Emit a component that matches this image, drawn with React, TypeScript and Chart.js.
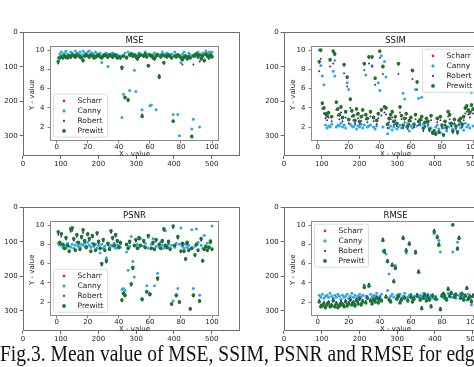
import React, { useEffect, useRef } from "react";
import { Chart, registerables } from "chart.js";

Chart.register(...registerables);
Chart.defaults.font.family = "'DejaVu Sans', sans-serif";

// ---------- labels & ticks ----------
const SERIES_NAMES = ["Scharr", "Canny", "Robert", "Prewitt"];
const SERIES_COLORS = ["#e3261f", "#2fa8e4", "#3b2f9c", "#15782b"];
const SERIES_RADII = [1.2, 1.5, 1.0, 1.8];
const OUTER_X_TICKS = [0, 100, 200, 300, 400, 500];
const OUTER_Y_TICKS = [0, 100, 200, 300];
const INNER_X_TICKS = [0, 20, 40, 60, 80, 100];
const INNER_Y_TICKS = [2, 4, 6, 8, 10];
const X_LABEL = "X - value";
const Y_LABEL = "Y - value";
const CAPTION = "Fig.3. Mean value of MSE, SSIM, PSNR and RMSE for edge detection techniques";

// ---------- MSE ----------
const MSE_SCHARR = [
  8.9, 9.3, 9.2, 9.3, 9.4, 9.2, 9.3, 9.4, 9.2, 9.4,
  9.4, 9.2, 9.4, 9.5, 9.3, 9.3, 9.0, 9.3, 9.4, 9.4,
  9.2, 9.4, 9.5, 9.3, 9.2, 9.4, 9.4, 9.3, 9.3, 9.3,
  9.4, 9.4, 9.2, 9.4, 9.5, 9.2, 9.4, 9.3, 9.3, 9.2,
  9.3, 8.1, 9.3, 5.0, 9.3, 4.9, 9.4, 9.5, 9.3, 9.4,
  9.2, 9.2, 9.3, 9.4, 3.2, 9.3, 9.5, 9.4, 8.3, 9.4,
  9.3, 9.3, 9.2, 9.3, 9.4, 7.1, 9.4, 9.4, 8.6, 9.3,
  9.4, 9.4, 9.3, 9.3, 2.6, 9.3, 9.4, 9.4, 9.3, 9.3,
  9.1, 9.2, 9.3, 9.2, 9.4, 9.3, 1.1, 9.3, 9.4, 9.5,
  9.4, 9.4, 9.2, 9.3, 9.0, 9.5, 9.3, 9.3, 9.4, 9.4,
];
const MSE_CANNY = [
  9.2, 9.6, 9.8, 9.5, 9.7, 9.9, 9.6, 9.4, 9.8, 9.7,
  9.5, 9.9, 9.7, 9.6, 9.8, 9.5, 9.9, 9.7, 9.6, 9.8,
  9.9, 9.6, 9.7, 9.5, 9.8, 9.6, 9.4, 9.7, 8.7, 9.5,
  9.6, 9.7, 8.3, 9.5, 9.6, 9.7, 9.4, 9.6, 9.5, 9.3,
  9.4, 3.0, 5.4, 9.7, 9.3, 9.8, 5.8, 9.4, 9.6, 7.9,
  5.7, 9.5, 9.7, 9.6, 3.8, 9.5, 9.8, 9.4, 9.6, 4.2,
  4.3, 9.5, 9.7, 3.8, 9.6, 7.3, 9.5, 9.8, 9.4, 9.6,
  9.7, 9.5, 9.3, 9.6, 3.3, 9.8, 9.5, 3.3, 1.1, 8.7,
  9.6, 9.8, 9.4, 9.2, 9.7, 9.5, 1.8, 2.8, 9.3, 9.6,
  9.8, 2.0, 9.4, 9.7, 9.5, 9.9, 9.6, 9.8, 9.7, 9.8,
];
const MSE_ROBERT = [
  8.6, 9.1, 9.2, 9.1, 9.3, 9.2, 9.1, 9.3, 9.2, 9.4,
  9.3, 9.2, 9.4, 9.3, 9.2, 9.1, 8.8, 9.3, 9.4, 9.3,
  9.2, 9.4, 9.3, 9.1, 9.2, 9.3, 9.4, 9.2, 9.1, 9.3,
  9.4, 9.3, 9.2, 9.4, 9.3, 9.2, 9.4, 9.3, 9.1, 9.2,
  9.1, 8.0, 9.3, 5.0, 9.1, 4.7, 9.4, 9.5, 9.3, 9.4,
  9.2, 9.0, 9.3, 9.4, 3.3, 9.3, 9.5, 9.2, 8.3, 9.4,
  9.3, 9.1, 9.0, 9.3, 9.4, 7.4, 9.2, 9.4, 8.6, 9.3,
  9.2, 9.4, 9.3, 9.1, 2.7, 9.3, 9.2, 9.4, 9.3, 9.1,
  8.5, 9.2, 9.3, 9.0, 9.2, 9.1, 1.1, 8.5, 9.4, 9.5,
  9.2, 8.8, 9.0, 9.3, 8.8, 9.5, 9.3, 9.1, 9.4, 9.2,
];
const MSE_PREWITT = [
  8.8, 9.2, 9.3, 9.2, 9.4, 9.3, 9.2, 9.4, 9.3, 9.5,
  9.4, 9.3, 9.5, 9.4, 9.3, 9.2, 8.9, 9.4, 9.5, 9.4,
  9.3, 9.5, 9.4, 9.2, 9.3, 9.4, 9.5, 9.3, 9.2, 9.4,
  9.5, 9.4, 9.3, 9.5, 9.4, 9.3, 9.5, 9.4, 9.2, 9.3,
  9.2, 8.2, 9.4, 5.1, 9.2, 4.8, 9.5, 9.6, 9.4, 9.5,
  9.3, 9.1, 9.4, 9.5, 3.1, 9.4, 9.6, 9.3, 8.4, 9.5,
  9.4, 9.2, 9.1, 9.4, 9.5, 7.2, 9.3, 9.5, 8.7, 9.4,
  9.3, 9.5, 9.4, 9.2, 2.6, 9.4, 9.3, 9.5, 9.4, 9.2,
  9.0, 9.3, 9.4, 9.1, 9.3, 9.2, 1.0, 9.4, 9.5, 9.6,
  9.3, 9.5, 9.1, 9.4, 8.9, 9.6, 9.4, 9.2, 9.5, 9.3,
];

// ---------- SSIM ----------
const SSIM_SCHARR = [
  8.7, 9.9, 4.4, 3.9, 3.3, 3.1, 3.4, 8.9, 3.0, 9.8,
  9.5, 4.5, 3.8, 3.2, 4.0, 2.9, 8.4, 3.5, 7.1, 2.7,
  4.8, 3.6, 3.1, 2.6, 3.8, 3.3, 2.5, 3.0, 3.7, 8.5,
  3.2, 2.8, 9.2, 3.5, 9.2, 2.9, 7.0, 2.6, 3.3, 9.8,
  3.7, 8.2, 4.0, 3.9, 2.2, 2.8, 3.2, 3.5, 2.5, 3.0,
  2.3, 8.5, 4.0, 3.1, 2.1, 2.8, 3.3, 2.0, 2.6, 2.9,
  7.8, 2.2, 3.2, 6.6, 2.5, 2.7, 3.0, 1.8, 2.4, 2.8,
  2.5, 1.7, 3.1, 1.3, 1.5, 1.2, 2.8, 1.4, 3.0, 2.1,
  1.1, 2.5, 1.9, 3.5, 3.2, 2.3, 1.5, 2.7, 2.0, 1.4,
  2.6, 2.8, 2.2, 3.0, 3.9, 4.1, 3.7, 3.4, 4.2, 3.8,
];
const SSIM_CANNY = [
  10.0, 8.4, 7.3, 6.4, 2.2, 1.9, 2.1, 2.0, 2.3, 7.8,
  7.3, 2.0, 2.2, 2.1, 2.4, 2.0, 2.2, 1.9, 6.6, 5.9,
  2.3, 2.1, 2.0, 2.2, 1.8, 2.1, 2.0, 2.3, 1.9, 2.2,
  7.4, 2.0, 2.1, 2.2, 8.3, 2.0, 1.8, 2.1, 6.6, 5.8,
  9.4, 2.0, 8.8, 7.2, 1.3, 1.9, 2.1, 1.7, 2.0, 2.3,
  1.8, 2.0, 2.2, 1.9, 5.5, 4.9, 2.0, 2.4, 1.6, 2.1,
  1.9, 2.0, 5.9, 2.1, 5.0, 2.2, 5.1, 2.3, 2.0, 2.5,
  2.1, 1.7, 1.9, 1.5, 1.3, 2.0, 2.2, 1.8, 1.4, 2.1,
  1.9, 2.2, 1.6, 2.0, 2.4, 2.1, 1.8, 2.3, 2.0, 1.5,
  2.2, 1.9, 2.1, 1.7, 2.4, 2.0, 2.2, 1.9, 5.6, 2.1,
];
const SSIM_ROBERT = [
  7.8, 9.1, 3.9, 3.4, 2.9, 2.7, 3.0, 8.3, 2.6, 8.6,
  8.9, 3.8, 3.2, 2.8, 3.5, 2.6, 7.6, 3.0, 6.2, 2.4,
  4.0, 3.1, 2.7, 2.4, 3.3, 2.9, 2.3, 2.6, 3.2, 7.9,
  2.8, 2.5, 8.6, 3.1, 8.4, 2.6, 6.4, 2.3, 2.9, 9.2,
  3.2, 7.5, 3.5, 3.3, 1.9, 2.5, 2.8, 3.0, 2.2, 2.7,
  2.1, 7.5, 3.5, 2.8, 1.9, 2.5, 2.9, 1.8, 2.3, 2.6,
  7.0, 2.0, 2.8, 5.9, 2.2, 2.4, 2.7, 1.6, 2.1, 2.5,
  2.3, 1.6, 2.7, 1.3, 1.5, 1.2, 2.5, 1.4, 2.7, 1.9,
  1.1, 2.2, 1.8, 3.1, 2.8, 2.1, 1.4, 2.4, 1.8, 1.3,
  2.3, 2.5, 2.0, 2.7, 3.4, 3.6, 3.3, 3.0, 3.7, 3.4,
];
const SSIM_PREWITT = [
  8.8, 10.0, 4.5, 4.0, 3.4, 3.2, 3.5, 9.0, 3.1, 9.9,
  9.6, 4.6, 3.9, 3.3, 4.1, 3.0, 8.5, 3.6, 7.2, 2.8,
  4.9, 3.7, 3.2, 2.7, 3.9, 3.4, 2.6, 3.1, 3.8, 8.6,
  3.3, 2.9, 9.3, 3.6, 9.3, 3.0, 7.1, 2.7, 3.4, 9.9,
  3.8, 8.3, 4.1, 4.0, 2.3, 2.9, 3.3, 3.6, 2.6, 3.1,
  2.4, 8.6, 4.1, 3.2, 2.2, 2.9, 3.4, 2.1, 2.7, 3.0,
  7.9, 2.3, 3.3, 6.7, 2.6, 2.8, 3.1, 1.9, 2.5, 2.9,
  2.6, 1.8, 3.2, 1.4, 1.6, 1.3, 2.9, 1.5, 3.1, 2.2,
  1.2, 2.6, 2.0, 3.6, 3.3, 2.4, 1.6, 2.8, 2.1, 1.5,
  2.7, 2.9, 2.3, 3.1, 4.0, 4.2, 3.8, 3.5, 4.3, 3.9,
];

// ---------- PSNR ----------
const PSNR_SCHARR = [
  9.2, 8.1, 9.0, 7.9, 7.5, 8.6, 7.8, 7.2, 9.5, 9.6,
  8.5, 7.3, 8.9, 8.1, 7.4, 8.7, 9.4, 8.3, 7.6, 9.0,
  8.5, 7.2, 8.8, 7.9, 7.3, 9.1, 8.2, 7.5, 5.9, 8.4,
  7.3, 6.2, 8.0, 7.4, 9.3, 8.6, 7.8, 8.9, 8.3, 7.6,
  8.1, 2.1, 2.8, 2.6, 7.9, 7.5, 8.2, 3.8, 5.5, 7.8,
  8.4, 7.5, 8.6, 7.8, 2.2, 8.3, 7.6, 3.0, 8.8, 2.7,
  7.5, 8.1, 7.4, 8.4, 4.4, 7.9, 7.5, 8.3, 9.5, 7.8,
  7.6, 8.2, 7.4, 1.7, 9.8, 7.8, 2.6, 8.7, 1.9, 7.2,
  8.0, 7.2, 6.4, 8.1, 7.3, 1.2, 7.5, 2.6, 6.8, 7.9,
  7.3, 2.0, 8.5, 6.2, 7.4, 7.7, 7.3, 7.6, 8.2, 7.4,
];
const PSNR_CANNY = [
  8.1, 7.9, 8.0, 7.7, 7.9, 7.6, 8.1, 7.8, 7.7, 8.0,
  7.6, 7.9, 8.2, 7.8, 7.7, 8.0, 7.9, 8.1, 7.8, 8.2,
  7.9, 7.7, 8.1, 7.8, 8.0, 7.6, 7.9, 7.1, 8.0, 7.6,
  7.8, 6.6, 8.0, 7.7, 7.9, 7.8, 8.1, 7.6, 7.9, 7.8,
  7.7, 3.3, 3.4, 3.2, 7.2, 5.3, 7.8, 8.8, 6.2, 4.6,
  7.9, 8.0, 7.7, 8.6, 2.2, 7.8, 8.1, 3.7, 7.6, 2.9,
  8.0, 8.6, 3.7, 7.8, 5.0, 7.7, 8.2, 7.9, 7.6, 9.4,
  7.8, 8.0, 7.6, 7.9, 2.1, 7.7, 8.1, 3.4, 8.0, 9.7,
  7.8, 7.6, 8.0, 7.7, 7.9, 7.5, 9.5, 3.4, 7.8, 9.6,
  8.2, 2.7, 7.9, 7.6, 8.9, 7.8, 8.1, 7.7, 8.4, 9.9,
];
const PSNR_ROBERT = [
  9.0, 8.0, 8.8, 7.9, 7.5, 8.5, 7.8, 7.2, 9.3, 9.4,
  8.4, 7.3, 8.8, 8.0, 7.4, 8.6, 9.2, 8.2, 7.6, 8.9,
  8.4, 7.2, 8.7, 7.9, 7.3, 9.0, 8.1, 7.5, 5.8, 8.3,
  7.3, 6.1, 7.9, 7.4, 9.2, 8.5, 7.8, 8.8, 8.2, 7.6,
  8.0, 2.3, 3.0, 2.8, 7.9, 7.5, 8.1, 3.7, 5.4, 7.8,
  8.3, 7.5, 8.5, 7.8, 2.4, 8.2, 7.6, 3.0, 8.7, 2.9,
  7.5, 8.0, 7.4, 8.3, 4.3, 7.9, 7.5, 8.2, 9.4, 7.8,
  7.6, 8.1, 7.4, 1.9, 9.7, 7.8, 2.8, 8.6, 2.1, 7.2,
  7.9, 7.2, 6.4, 8.0, 7.3, 1.4, 7.5, 2.8, 6.8, 7.9,
  7.3, 2.2, 8.4, 6.2, 7.4, 7.7, 7.3, 7.6, 8.1, 7.4,
];
const PSNR_PREWITT = [
  9.3, 8.2, 9.1, 8.0, 7.6, 8.7, 7.9, 7.3, 9.6, 9.7,
  8.6, 7.4, 9.0, 8.2, 7.5, 8.8, 9.5, 8.4, 7.7, 9.1,
  8.6, 7.3, 8.9, 8.0, 7.4, 9.2, 8.3, 7.6, 6.0, 8.5,
  7.4, 6.3, 8.1, 7.5, 9.4, 8.7, 7.9, 9.0, 8.4, 7.7,
  8.2, 2.2, 2.9, 2.7, 8.0, 7.6, 8.3, 3.9, 5.6, 7.9,
  8.5, 7.6, 8.7, 7.9, 2.3, 8.4, 7.7, 3.1, 8.9, 2.8,
  7.6, 8.2, 7.5, 8.5, 4.5, 8.0, 7.6, 8.4, 9.6, 7.9,
  7.7, 8.3, 7.5, 1.8, 9.9, 7.9, 2.7, 8.8, 2.0, 7.3,
  8.1, 7.3, 6.5, 8.2, 7.4, 1.3, 7.6, 2.7, 6.9, 8.0,
  7.4, 2.1, 8.6, 6.3, 7.5, 7.8, 7.4, 7.7, 8.3, 7.5,
];

// ---------- RMSE ----------
const RMSE_SCHARR = [
  2.1, 1.6, 1.7, 1.9, 1.5, 1.8, 2.0, 1.6, 1.7, 2.2,
  1.6, 1.9, 1.5, 1.7, 2.0, 1.8, 1.6, 2.1, 1.7, 1.9,
  2.3, 1.8, 2.0, 1.7, 2.2, 1.9, 2.4, 1.8, 2.1, 3.6,
  2.0, 2.5, 3.8, 2.2, 1.9, 2.3, 2.1, 2.5, 2.0, 2.4,
  2.2, 8.5, 7.3, 2.6, 6.3, 2.3, 2.1, 5.9, 4.2, 5.6,
  2.4, 2.7, 2.0, 2.3, 8.7, 2.5, 7.4, 2.2, 8.1, 2.6,
  2.1, 2.4, 7.2, 2.7, 5.2, 2.3, 1.4, 2.5, 2.8, 2.2,
  2.6, 2.3, 1.6, 2.7, 9.4, 2.4, 8.8, 8.0, 1.3, 2.7,
  2.9, 2.5, 2.3, 3.4, 2.7, 3.0, 10.0, 2.6, 2.8, 7.6,
  8.7, 2.5, 2.9, 2.3, 2.7, 3.5, 2.4, 2.6, 2.1, 2.7,
];
const RMSE_CANNY = [
  2.7, 2.5, 2.8, 2.4, 2.6, 2.7, 2.5, 2.9, 2.6, 2.4,
  2.7, 2.5, 2.8, 2.6, 2.3, 2.7, 2.5, 2.6, 2.8, 2.4,
  2.6, 2.9, 2.5, 2.7, 2.4, 2.6, 2.8, 2.5, 2.7, 3.7,
  2.6, 2.4, 3.6, 2.8, 2.5, 2.7, 2.6, 2.9, 2.4, 2.6,
  2.8, 7.3, 7.4, 7.0, 3.2, 4.9, 2.6, 2.8, 2.5, 5.8,
  2.7, 2.5, 2.8, 2.4, 2.6, 2.9, 7.1, 2.5, 2.7, 2.8,
  2.4, 2.6, 7.3, 2.8, 2.5, 2.7, 2.6, 2.9, 2.4, 2.6,
  2.8, 2.5, 2.7, 2.4, 9.1, 2.6, 2.3, 8.4, 7.2, 2.8,
  2.5, 2.7, 2.4, 2.9, 2.6, 2.5, 7.2, 2.8, 2.4, 8.2,
  2.7, 2.9, 2.5, 2.3, 2.6, 2.2, 2.8, 2.5, 1.7, 2.6,
];
const RMSE_ROBERT = [
  2.2, 1.7, 1.8, 2.0, 1.6, 1.9, 2.1, 1.7, 1.8, 2.3,
  1.7, 2.0, 1.6, 1.8, 2.1, 1.9, 1.7, 2.2, 1.8, 2.0,
  2.4, 1.9, 2.1, 1.8, 2.3, 2.0, 2.5, 1.9, 2.2, 3.8,
  2.1, 2.6, 3.9, 2.3, 2.0, 2.4, 2.2, 2.6, 2.1, 2.5,
  2.3, 8.6, 7.4, 2.7, 6.4, 2.4, 2.2, 6.0, 4.3, 5.7,
  2.5, 2.8, 2.1, 2.4, 8.8, 2.6, 7.5, 2.3, 8.2, 2.7,
  2.2, 2.5, 7.3, 2.8, 5.3, 2.4, 1.5, 2.6, 2.9, 2.3,
  2.7, 2.4, 1.7, 2.8, 9.5, 2.5, 8.9, 8.1, 1.4, 2.8,
  3.0, 2.6, 2.4, 3.5, 2.8, 3.1, 10.1, 2.7, 2.9, 7.7,
  8.8, 2.6, 3.0, 2.4, 2.8, 3.6, 2.5, 2.7, 2.2, 2.8,
];
const RMSE_PREWITT = [
  2.0, 1.5, 1.6, 1.8, 1.4, 1.7, 1.9, 1.5, 1.6, 2.1,
  1.5, 1.8, 1.4, 1.6, 1.9, 1.7, 1.5, 2.0, 1.6, 1.8,
  2.2, 1.7, 1.9, 1.6, 2.1, 1.8, 2.3, 1.7, 2.0, 3.5,
  1.9, 2.4, 3.7, 2.1, 1.8, 2.2, 2.0, 2.4, 1.9, 2.3,
  2.1, 8.4, 7.2, 2.5, 6.2, 2.2, 2.0, 5.8, 4.1, 5.5,
  2.3, 2.6, 1.9, 2.2, 8.6, 2.4, 7.3, 2.1, 8.0, 2.5,
  2.0, 2.3, 7.1, 2.6, 5.1, 2.2, 1.3, 2.4, 2.7, 2.1,
  2.5, 2.2, 1.5, 2.6, 9.3, 2.3, 8.7, 7.9, 1.2, 2.6,
  2.8, 2.4, 2.2, 3.3, 2.6, 2.9, 10.0, 2.5, 2.7, 7.5,
  8.6, 2.4, 2.8, 2.2, 2.6, 3.4, 2.3, 2.5, 2.0, 2.6,
];

// ---------- layout constants (not data) ----------
const PANEL_W = 245;
const PANEL_H = 172;
const INNER_LEFT = 24;
const INNER_TOP = 34;
const INNER_W = 205;
const INNER_H = 126;

type LegendLoc = "lower left" | "upper right" | "upper left";

const tickFont = { size: 7 };
const TEXT_COLOR = "#1e1e1e";

function fixedTicks(values: number[]) {
  return (scale: any) => {
    scale.ticks = values.map((v) => ({ value: v }));
  };
}

const framePlugin = (color: string) => ({
  id: "frame",
  afterDraw(chart: any) {
    const { ctx, chartArea: a } = chart;
    ctx.save();
    ctx.strokeStyle = color;
    ctx.lineWidth = 1;
    ctx.strokeRect(Math.round(a.left) + 0.5, Math.round(a.top) + 0.5, Math.round(a.right - a.left) - 1, Math.round(a.bottom - a.top) - 1);
    ctx.restore();
  },
});

const innerDecor = (title: string, loc: LegendLoc) => ({
  id: "innerDecor",
  afterDraw(chart: any) {
    const { ctx, chartArea: a } = chart;
    ctx.save();
    ctx.fillStyle = "#111";
    ctx.textAlign = "center";
    ctx.textBaseline = "middle";
    ctx.font = "8.5px 'DejaVu Sans'";
    ctx.fillText(title, (a.left + a.right) / 2, a.top - 5);
    ctx.font = "7px 'DejaVu Sans'";
    ctx.fillStyle = TEXT_COLOR;
    ctx.fillText(X_LABEL, (a.left + a.right) / 2, a.bottom + 13.3);
    ctx.save();
    ctx.translate(a.left - 18, (a.top + a.bottom) / 2 + 1.5);
    ctx.rotate(-Math.PI / 2);
    ctx.fillText(Y_LABEL, 0, 0);
    ctx.restore();

    // legend
    const bw = 54;
    const bh = 43;
    const pad = 3.5;
    let bx = a.left + pad;
    let by = a.top + pad;
    if (loc === "lower left") by = a.bottom - pad - bh;
    if (loc === "upper right") bx = a.right - pad - bw;
    ctx.beginPath();
    const r = 2;
    ctx.moveTo(bx + r, by);
    ctx.lineTo(bx + bw - r, by);
    ctx.quadraticCurveTo(bx + bw, by, bx + bw, by + r);
    ctx.lineTo(bx + bw, by + bh - r);
    ctx.quadraticCurveTo(bx + bw, by + bh, bx + bw - r, by + bh);
    ctx.lineTo(bx + r, by + bh);
    ctx.quadraticCurveTo(bx, by + bh, bx, by + bh - r);
    ctx.lineTo(bx, by + r);
    ctx.quadraticCurveTo(bx, by, bx + r, by);
    ctx.fillStyle = "rgba(255,255,255,0.8)";
    ctx.fill();
    ctx.strokeStyle = "#d4d4d4";
    ctx.lineWidth = 0.8;
    ctx.stroke();
    ctx.font = "7.5px 'DejaVu Sans'";
    ctx.textAlign = "left";
    ctx.textBaseline = "middle";
    chart.data.datasets.forEach((ds: any, i: number) => {
      const y = by + 6.7 + i * 10;
      ctx.beginPath();
      ctx.fillStyle = ds.backgroundColor;
      ctx.arc(bx + 10.5, y, ds.pointRadius + 0.1, 0, Math.PI * 2);
      ctx.fill();
      ctx.fillStyle = TEXT_COLOR;
      ctx.fillText(ds.label, bx + 24, y + 0.5);
    });
    ctx.restore();
  },
});

type PanelProps = { title: string; left: number; top: number; series: number[][]; loc: LegendLoc };

function Panel({ title, left, top, series, loc }: PanelProps) {
  const outerRef = useRef<HTMLCanvasElement>(null);
  const innerRef = useRef<HTMLCanvasElement>(null);

  useEffect(() => {
    const axisGrid = (color: string, len: number) => ({
      display: true,
      drawOnChartArea: false,
      drawTicks: true,
      tickLength: len,
      color,
    });
    const outer = new Chart(outerRef.current!, {
      type: "scatter",
      data: { datasets: [] },
      options: {
        responsive: false,
        animation: false,
        devicePixelRatio: 1,
        layout: { padding: { left: 0, top: 32.3, right: 5.7, bottom: 0 } },
        plugins: { legend: { display: false }, tooltip: { enabled: false } },
        scales: {
          x: {
            type: "linear",
            min: -0.5,
            max: 573,
            afterBuildTicks: fixedTicks(OUTER_X_TICKS),
            afterFit: (s: any) => { s.height = 16; },
            grid: axisGrid("#666", 3),
            border: { display: false },
            ticks: { font: tickFont, color: TEXT_COLOR, padding: 0.5, maxRotation: 0, autoSkip: false },
          },
          y: {
            type: "linear",
            reverse: true,
            min: -0.5,
            max: 359,
            afterBuildTicks: fixedTicks(OUTER_Y_TICKS),
            afterFit: (s: any) => { s.width = 22.7; },
            grid: axisGrid("#666", 3),
            border: { display: false },
            ticks: { font: tickFont, color: TEXT_COLOR, padding: 2, autoSkip: false },
          },
        },
      },
      plugins: [framePlugin("#6e6e6e")],
    } as any);

    const inner = new Chart(innerRef.current!, {
      type: "scatter",
      data: {
        datasets: SERIES_NAMES.map((name, i) => ({
          label: name,
          data: series[i].map((v, j) => ({ x: j + 1, y: v })),
          backgroundColor: SERIES_COLORS[i],
          borderWidth: 0,
          pointRadius: SERIES_RADII[i],
          pointHoverRadius: SERIES_RADII[i],
          order: 4 - i,
        })),
      },
      options: {
        responsive: false,
        animation: false,
        devicePixelRatio: 1,
        layout: { padding: { left: 0, top: 11.7, right: 10, bottom: 0 } },
        plugins: { legend: { display: false }, tooltip: { enabled: false } },
        scales: {
          x: {
            type: "linear",
            min: -4.3,
            max: 104.5,
            afterBuildTicks: fixedTicks(INNER_X_TICKS),
            afterFit: (s: any) => { s.height = 19.3; },
            grid: axisGrid("#808080", 2.5),
            border: { display: false },
            ticks: { font: tickFont, color: TEXT_COLOR, padding: 0, maxRotation: 0, autoSkip: false },
          },
          y: {
            type: "linear",
            min: 0.58,
            max: 10.45,
            afterBuildTicks: fixedTicks(INNER_Y_TICKS),
            afterFit: (s: any) => { s.width = 26; },
            grid: axisGrid("#808080", 2.5),
            border: { display: false },
            ticks: { font: tickFont, color: TEXT_COLOR, padding: 3, autoSkip: false },
          },
        },
      },
      plugins: [framePlugin("#8a8a8a"), innerDecor(title, loc)],
    } as any);

    return () => {
      outer.destroy();
      inner.destroy();
    };
  }, []);

  return (
    <div style={{ position: "absolute", left, top, width: PANEL_W, height: PANEL_H }}>
      <canvas ref={outerRef} width={PANEL_W} height={PANEL_H} style={{ position: "absolute", left: 0, top: 0 }} />
      <canvas ref={innerRef} width={INNER_W} height={INNER_H} style={{ position: "absolute", left: INNER_LEFT, top: INNER_TOP }} />
    </div>
  );
}

export default function App() {
  return (
    <div
      style={{
        position: "fixed",
        left: 0,
        top: 0,
        width: 474,
        height: 367,
        overflow: "hidden",
        background: "#fff",
      }}
    >
      <Panel title="MSE" left={0} top={0} series={[MSE_SCHARR, MSE_CANNY, MSE_ROBERT, MSE_PREWITT]} loc="lower left" />
      <Panel title="SSIM" left={261} top={0} series={[SSIM_SCHARR, SSIM_CANNY, SSIM_ROBERT, SSIM_PREWITT]} loc="upper right" />
      <Panel title="PSNR" left={0} top={175} series={[PSNR_SCHARR, PSNR_CANNY, PSNR_ROBERT, PSNR_PREWITT]} loc="lower left" />
      <Panel title="RMSE" left={261} top={175} series={[RMSE_SCHARR, RMSE_CANNY, RMSE_ROBERT, RMSE_PREWITT]} loc="upper left" />
      <div
        style={{
          position: "absolute",
          left: 0,
          top: 341.5,
          fontFamily: "'Liberation Serif', 'Times New Roman', serif",
          fontSize: 23,
          lineHeight: 1,
          whiteSpace: "nowrap",
          color: "#111",
          transform: "scaleX(0.85)",
          transformOrigin: "0 0",
        }}
      >
        {CAPTION}
      </div>
    </div>
  );
}
